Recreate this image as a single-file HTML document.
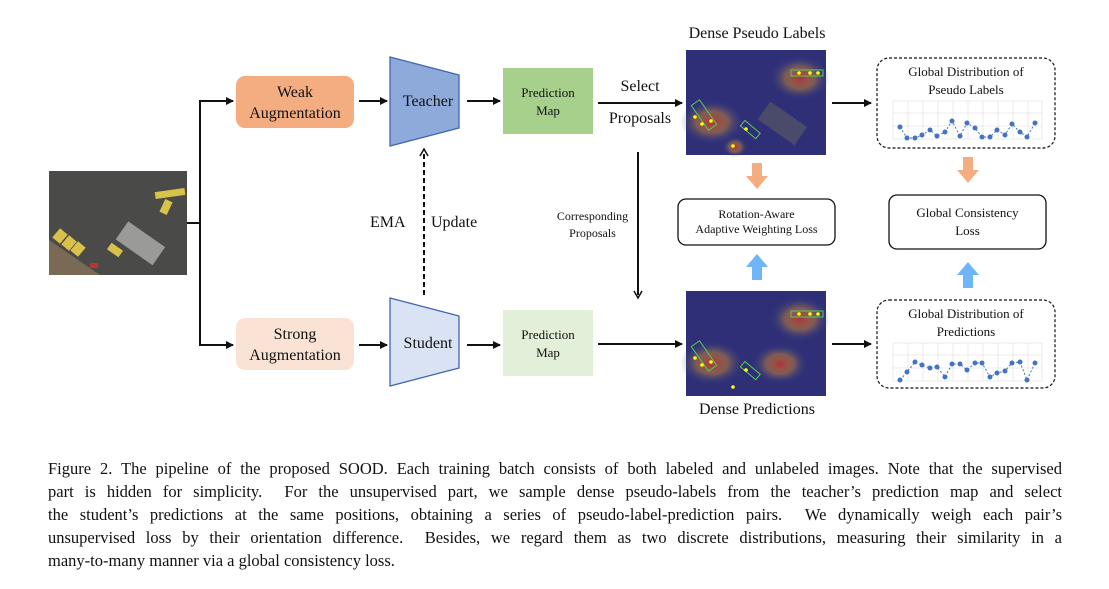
<!DOCTYPE html>
<html><head><meta charset="utf-8"><style>
body{margin:0;background:#fff;width:1109px;height:589px;overflow:hidden;position:relative;font-family:"Liberation Serif",serif;color:#111}
.t{position:absolute;text-align:center;white-space:nowrap}
.cap{position:absolute;left:48px;width:1014px;font-size:16.5px;line-height:23px;text-align:justify;top:457px}
.cap span{display:block;text-align-last:justify}
</style></head><body>
<svg width="1109" height="589" style="position:absolute;left:0;top:0">
<defs>
<marker id="a" markerWidth="8" markerHeight="8" refX="7" refY="4" orient="auto" markerUnits="userSpaceOnUse"><path d="M0,0 L8,4 L0,8 z" fill="#111"/></marker>
<marker id="o" markerWidth="10" markerHeight="10" refX="5" refY="5" orient="auto" markerUnits="userSpaceOnUse"><path d="M1,1 L8,5 L1,9" fill="none" stroke="#111" stroke-width="1.5"/></marker>
<radialGradient id="h1" cx="0.5" cy="0.5" r="0.5"><stop offset="0" stop-color="#b33" stop-opacity=".9"/><stop offset=".5" stop-color="#c83" stop-opacity=".5"/><stop offset="1" stop-color="#2a4a8a" stop-opacity="0"/></radialGradient>
</defs>
<rect x="49" y="171" width="138" height="104" fill="#4a4a48"/>
<path d="M49,240 L100,275 L49,275z" fill="#7a6a55"/>
<rect x="155" y="190" width="30" height="7" fill="#d8c24a" transform="rotate(-8 170 193)"/>
<rect x="162" y="200" width="8" height="14" fill="#d8c24a" transform="rotate(25 166 207)"/>
<rect x="55" y="230" width="10" height="12" fill="#d8c24a" transform="rotate(40 60 236)"/>
<rect x="64" y="237" width="10" height="12" fill="#d8c24a" transform="rotate(40 69 243)"/>
<rect x="73" y="243" width="10" height="12" fill="#d8c24a" transform="rotate(40 78 249)"/>
<rect x="108" y="246" width="14" height="8" fill="#d8c24a" transform="rotate(35 115 250)"/>
<rect x="118" y="232" width="45" height="22" fill="#9a9a98" transform="rotate(35 140 243)"/>
<rect x="90" y="263" width="8" height="5" fill="#b33"/>
<g stroke="#111" stroke-width="2" fill="none">
<line x1="187" y1="223" x2="200" y2="223"/>
<polyline points="233,101 200,101 200,345 233,345" marker-end="url(#a)"/>
<line x1="200" y1="101" x2="233" y2="101" marker-end="url(#a)"/>
<line x1="359" y1="101" x2="387" y2="101" marker-end="url(#a)"/>
<line x1="467" y1="101" x2="500" y2="101" marker-end="url(#a)"/>
<line x1="359" y1="345" x2="387" y2="345" marker-end="url(#a)"/>
<line x1="467" y1="345" x2="500" y2="345" marker-end="url(#a)"/>
<line x1="598" y1="103" x2="682" y2="103" marker-end="url(#a)"/>
<line x1="598" y1="344" x2="682" y2="344" marker-end="url(#a)"/>
<line x1="638" y1="152" x2="638" y2="295" marker-end="url(#o)"/>
<line x1="832" y1="103" x2="871" y2="103" marker-end="url(#a)"/>
<line x1="832" y1="344" x2="871" y2="344" marker-end="url(#a)"/>
<line x1="424" y1="295" x2="424" y2="152" stroke-dasharray="5,3" marker-end="url(#o)"/>
</g>
<rect x="236" y="76" width="118" height="52" rx="9" fill="#f4ad80"/>
<rect x="236" y="318" width="118" height="52" rx="9" fill="#fae2d5"/>
<polygon points="390,57 459,75 459,128 390,146" fill="#8eaadb" stroke="#4065b0" stroke-width="1.3"/>
<polygon points="390,298 459,316 459,368 390,386" fill="#dae3f3" stroke="#4065b0" stroke-width="1.3"/>
<rect x="503" y="68" width="90" height="66" fill="#a8d08d"/>
<rect x="503" y="310" width="90" height="66" fill="#e2efd9"/>
<g>
<rect x="686" y="50" width="140" height="105" fill="#2f2f78"/>
<ellipse cx="800" cy="78" rx="30" ry="22" fill="url(#h1)"/>
<ellipse cx="712" cy="122" rx="32" ry="22" fill="url(#h1)"/>
<ellipse cx="735" cy="147" rx="12" ry="10" fill="url(#h1)"/>
<rect x="760" y="112" width="45" height="22" fill="#4a4a6a" transform="rotate(35 782 123)"/>
<rect x="791" y="70" width="32" height="6" fill="none" stroke="#5c5" stroke-width="1"/>
<rect x="689" y="110" width="30" height="10" fill="none" stroke="#5c5" transform="rotate(55 704 115)"/>
<rect x="740" y="126" width="20" height="7" fill="none" stroke="#5c5" transform="rotate(40 750 130)"/>
<circle cx="799" cy="73" r="1.8" fill="#ff0"/><circle cx="810" cy="73" r="1.8" fill="#ff0"/><circle cx="818" cy="73" r="1.8" fill="#ff0"/>
<circle cx="695" cy="117" r="1.8" fill="#ff0"/><circle cx="702" cy="124" r="1.8" fill="#ff0"/><circle cx="711" cy="121" r="1.8" fill="#ff0"/><circle cx="746" cy="129" r="1.8" fill="#ff0"/><circle cx="733" cy="146" r="1.8" fill="#ff0"/>
</g>
<g transform="translate(0,241)">
<rect x="686" y="50" width="140" height="105" fill="#2f2f78"/>
<ellipse cx="800" cy="78" rx="30" ry="22" fill="url(#h1)"/>
<ellipse cx="712" cy="122" rx="32" ry="22" fill="url(#h1)"/>
<ellipse cx="780" cy="123" rx="28" ry="20" fill="url(#h1)"/>
<rect x="791" y="70" width="32" height="6" fill="none" stroke="#5c5" stroke-width="1"/>
<rect x="689" y="110" width="30" height="10" fill="none" stroke="#5c5" transform="rotate(55 704 115)"/>
<rect x="740" y="126" width="20" height="7" fill="none" stroke="#5c5" transform="rotate(40 750 130)"/>
<circle cx="799" cy="73" r="1.8" fill="#ff0"/><circle cx="810" cy="73" r="1.8" fill="#ff0"/><circle cx="818" cy="73" r="1.8" fill="#ff0"/>
<circle cx="695" cy="117" r="1.8" fill="#ff0"/><circle cx="702" cy="124" r="1.8" fill="#ff0"/><circle cx="711" cy="121" r="1.8" fill="#ff0"/><circle cx="746" cy="129" r="1.8" fill="#ff0"/><circle cx="733" cy="146" r="1.8" fill="#ff0"/>
</g>
<rect x="678" y="199" width="157" height="46" rx="8" fill="#fff" stroke="#111" stroke-width="1.3"/>
<rect x="889" y="195" width="157" height="54" rx="8" fill="#fff" stroke="#111" stroke-width="1.3"/>
<rect x="877" y="58" width="178" height="90" rx="12" fill="#fff" stroke="#111" stroke-width="1.2" stroke-dasharray="3,2"/>
<rect x="877" y="300" width="178" height="88" rx="12" fill="#fff" stroke="#111" stroke-width="1.2" stroke-dasharray="3,2"/>
<g fill="#f4ad80">
<polygon points="752,163 762,163 762,176 768,176 757,189 746,176 752,176"/>
<polygon points="963,157 973,157 973,170 979,170 968,183 957,170 963,170"/>
</g>
<g fill="#6fb5f7">
<polygon points="752,280 762,280 762,267 768,267 757,254 746,267 752,267"/>
<polygon points="963,288 973,288 973,275 979,275 968,262 957,275 963,275"/>
</g>
<g stroke="#e6e6e6" stroke-width="0.8" fill="none">
<rect x="893" y="101" width="149" height="38"/>
<path d="M893,113H1042M893,126H1042M908,101V139M923,101V139M938,101V139M953,101V139M968,101V139M983,101V139M998,101V139M1013,101V139M1028,101V139"/>
<rect x="893" y="343" width="149" height="38"/>
<path d="M893,355H1042M893,368H1042M908,343V381M923,343V381M938,343V381M953,343V381M968,343V381M983,343V381M998,343V381M1013,343V381M1028,343V381"/>
</g>
<polyline points="900,127 907,138 915,138 922,135 930,130 937,136 945,132 952,121 960,136 967,123 975,128 982,137 990,137 997,130 1005,135 1012,124 1020,132 1027,137 1035,123" fill="none" stroke="#4472c4" stroke-width="1" stroke-dasharray="2,2"/>
<g fill="#4472c4"><circle cx="900" cy="127" r="2.5"/><circle cx="907" cy="138" r="2.5"/><circle cx="915" cy="138" r="2.5"/><circle cx="922" cy="135" r="2.5"/><circle cx="930" cy="130" r="2.5"/><circle cx="937" cy="136" r="2.5"/><circle cx="945" cy="132" r="2.5"/><circle cx="952" cy="121" r="2.5"/><circle cx="960" cy="136" r="2.5"/><circle cx="967" cy="123" r="2.5"/><circle cx="975" cy="128" r="2.5"/><circle cx="982" cy="137" r="2.5"/><circle cx="990" cy="137" r="2.5"/><circle cx="997" cy="130" r="2.5"/><circle cx="1005" cy="135" r="2.5"/><circle cx="1012" cy="124" r="2.5"/><circle cx="1020" cy="132" r="2.5"/><circle cx="1027" cy="137" r="2.5"/><circle cx="1035" cy="123" r="2.5"/></g>
<polyline points="900,380 907,372 915,362 922,365 930,368 937,367 945,377 952,364 960,364 967,370 975,363 982,363 990,377 997,373 1005,371 1012,363 1020,362 1027,380 1035,363" fill="none" stroke="#4472c4" stroke-width="1" stroke-dasharray="2,2"/>
<g fill="#4472c4"><circle cx="900" cy="380" r="2.5"/><circle cx="907" cy="372" r="2.5"/><circle cx="915" cy="362" r="2.5"/><circle cx="922" cy="365" r="2.5"/><circle cx="930" cy="368" r="2.5"/><circle cx="937" cy="367" r="2.5"/><circle cx="945" cy="377" r="2.5"/><circle cx="952" cy="364" r="2.5"/><circle cx="960" cy="364" r="2.5"/><circle cx="967" cy="370" r="2.5"/><circle cx="975" cy="363" r="2.5"/><circle cx="982" cy="363" r="2.5"/><circle cx="990" cy="377" r="2.5"/><circle cx="997" cy="373" r="2.5"/><circle cx="1005" cy="371" r="2.5"/><circle cx="1012" cy="363" r="2.5"/><circle cx="1020" cy="362" r="2.5"/><circle cx="1027" cy="380" r="2.5"/><circle cx="1035" cy="363" r="2.5"/></g>
</svg>
<div class="t" style="left:236px;width:118px;top:82px;font-size:16px;line-height:21px">Weak<br>Augmentation</div>
<div class="t" style="left:236px;width:118px;top:324px;font-size:16px;line-height:21px">Strong<br>Augmentation</div>
<div class="t" style="left:390px;width:76px;top:93px;font-size:16px">Teacher</div>
<div class="t" style="left:390px;width:76px;top:335px;font-size:16px">Student</div>
<div class="t" style="left:503px;width:90px;top:84px;font-size:13px;line-height:18px">Prediction<br>Map</div>
<div class="t" style="left:503px;width:90px;top:326px;font-size:13px;line-height:18px">Prediction<br>Map</div>
<div class="t" style="left:370px;top:214px;font-size:16px">EMA</div>
<div class="t" style="left:431px;top:214px;font-size:16px">Update</div>
<div class="t" style="left:600px;width:80px;top:78px;font-size:16px">Select</div>
<div class="t" style="left:600px;width:80px;top:110px;font-size:16px">Proposals</div>
<div class="t" style="left:545px;width:95px;top:208px;font-size:12px;line-height:17px">Corresponding<br>Proposals</div>
<div class="t" style="left:657px;width:200px;top:25px;font-size:16px">Dense Pseudo Labels</div>
<div class="t" style="left:657px;width:200px;top:401px;font-size:16px">Dense Predictions</div>
<div class="t" style="left:678px;width:157px;top:207px;font-size:12px;line-height:15px">Rotation-Aware<br>Adaptive Weighting Loss</div>
<div class="t" style="left:889px;width:157px;top:204px;font-size:13px;line-height:18px">Global Consistency<br>Loss</div>
<div class="t" style="left:877px;width:178px;top:63px;font-size:13px;line-height:18px">Global Distribution of<br>Pseudo Labels</div>
<div class="t" style="left:877px;width:178px;top:305px;font-size:13px;line-height:18px">Global Distribution of<br>Predictions</div>
<div class="cap"><span>Figure 2. The pipeline of the proposed SOOD. Each training batch consists of both labeled and unlabeled images. Note that the supervised</span><span>part is hidden for simplicity.&nbsp; For the unsupervised part, we sample dense pseudo-labels from the teacher’s prediction map and select</span><span>the student’s predictions at the same positions, obtaining a series of pseudo-label-prediction pairs.&nbsp; We dynamically weigh each pair’s</span><span>unsupervised loss by their orientation difference.&nbsp; Besides, we regard them as two discrete distributions, measuring their similarity in a</span><span style="text-align-last:left">many-to-many manner via a global consistency loss.</span></div>
</body></html>
